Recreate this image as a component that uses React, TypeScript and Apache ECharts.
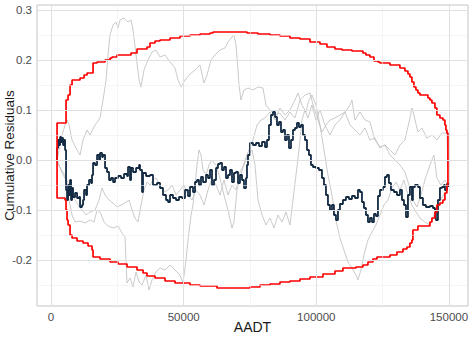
import React, { useEffect, useRef } from "react";
import * as echarts from "echarts";

// Tick values
const xTicks = [0, 50000, 100000, 150000];
const xMinorTicks = [25000, 75000, 125000];
const yTicks = [-0.2, -0.1, 0, 0.1, 0.2, 0.3];
const yMinorTicks = [-0.25, -0.15, -0.05, 0.05, 0.15, 0.25];

// Observed cumulative residuals (navy)
const obsAADT = [1890, 2260, 2640, 3020, 3390, 3770, 4150, 4520, 4900, 5280, 5650, 6030, 6410, 6780, 7160, 7540, 7920, 8290, 9050, 9800, 10550, 10930, 11680, 12060, 12440, 13190, 13570, 14320, 15080, 15450, 15830, 16580, 17340, 18090, 18470, 19220, 19600, 20350, 21110, 21860, 22610, 23370, 24120, 25250, 26380, 27510, 28640, 29020, 29770, 30150, 30900, 32040, 33170, 33540, 34300, 34670, 35810, 37310, 38440, 39950, 41080, 42210, 43340, 44100, 44850, 45980, 47110, 48240, 49370, 50500, 51630, 52380, 53520, 54270, 55020, 55780, 56530, 57290, 58420, 59170, 59930, 60680, 61430, 62190, 62940, 63700, 64450, 65200, 65960, 66710, 67470, 68220, 68970, 69730, 70480, 71230, 71990, 72740, 73500, 73870, 74250, 75000, 76130, 77260, 78400, 79530, 80660, 81410, 82160, 82920, 83670, 84430, 85180, 85930, 86690, 87440, 88200, 88950, 89700, 90460, 91210, 91960, 92720, 93470, 94230, 94980, 95730, 96490, 97240, 97990, 98750, 99880, 101010, 102140, 102890, 103650, 104400, 105160, 105910, 106660, 107420, 108170, 108920, 110050, 111190, 112320, 113450, 114580, 115710, 116460, 117220, 117970, 118720, 119480, 120230, 120990, 121740, 122490, 123250, 124000, 125130, 125890, 126640, 127390, 128150, 129280, 130410, 131540, 132300, 133050, 133810, 134560, 135310, 136070, 136440, 137200, 138330, 139080, 140210, 141340, 142850, 143980, 144740, 145110, 145870, 146620, 147380, 148130, 148510, 149260, 150010];
const obsResid = [0, 0.024, 0.04, 0.03, 0.046, 0.036, 0.044, 0.03, 0.04, 0.02, -0.06, -0.08, -0.05, -0.07, -0.04, -0.08, -0.056, -0.074, -0.066, -0.076, -0.074, -0.094, -0.09, -0.08, -0.06, -0.07, -0.05, -0.04, -0.046, -0.03, -0.006, -0.01, 0.01, 0, 0.014, 0.006, 0.01, -0.016, -0.024, -0.04, -0.036, -0.044, -0.036, -0.032, -0.036, -0.028, -0.032, -0.014, -0.04, -0.016, -0.024, -0.016, -0.01, -0.02, -0.064, -0.026, -0.032, -0.03, -0.05, -0.046, -0.056, -0.07, -0.08, -0.084, -0.07, -0.076, -0.08, -0.074, -0.076, -0.06, -0.072, -0.054, -0.064, -0.044, -0.04, -0.05, -0.034, -0.044, -0.03, -0.036, -0.02, -0.05, -0.04, -0.016, -0.008, -0.006, -0.02, -0.014, -0.036, -0.03, -0.02, -0.044, -0.026, -0.024, -0.046, -0.03, -0.04, -0.056, -0.036, -0.01, 0.01, 0.034, 0.03, 0.034, 0.028, 0.036, 0.026, 0.04, 0.07, 0.09, 0.096, 0.086, 0.07, 0.076, 0.056, 0.06, 0.04, 0.05, 0.024, 0.04, 0.06, 0.064, 0.074, 0.066, 0.07, 0.05, 0.04, 0.02, 0.01, -0.01, -0.014, -0.016, -0.02, -0.036, -0.05, -0.07, -0.09, -0.1, -0.09, -0.11, -0.12, -0.1, -0.088, -0.08, -0.074, -0.078, -0.072, -0.076, -0.06, -0.064, -0.084, -0.096, -0.11, -0.124, -0.116, -0.124, -0.108, -0.112, -0.072, -0.06, -0.054, -0.034, -0.03, -0.046, -0.06, -0.064, -0.07, -0.06, -0.08, -0.09, -0.114, -0.07, -0.054, -0.08, -0.054, -0.05, -0.054, -0.076, -0.09, -0.094, -0.092, -0.096, -0.1, -0.12, -0.08, -0.056, -0.054, -0.05, -0.06, -0.048, -0.054];

// Simulated cumulative residual paths (grey)
const sim1AADT = [2260, 3020, 4150, 5280, 6030, 6780, 7920, 9420, 10930, 12060, 13570, 14700, 16580, 18470, 19600, 20730, 21480, 22240, 23370, 24500, 25250, 26010, 27510, 29020, 30150, 30910, 32040, 33170, 33920, 35050, 36560, 38070, 39570, 41080, 42970, 44850, 46740, 47870, 49000, 50500, 52390, 54270, 56160, 57670, 58800, 60300, 61810, 63700, 65580, 66710, 68220, 68970, 69730, 70480, 70860, 71610, 72740, 74250, 76130, 78020, 79900, 81030, 82540, 84430, 86310, 88200, 90080, 91960, 93850, 95730, 97620, 99120, 100630, 102140, 103650, 105160, 107040, 108930, 110810, 112700, 113450, 114580, 116460, 118350, 120230, 122120, 124000, 125890, 127770, 129660, 131540, 133430, 135310, 136060, 136810, 138320, 139830, 141710, 143600, 145480, 147370, 149260, 149630];
const sim1Resid = [0, 0.02, 0.05, 0.07, 0.08, 0.07, 0.04, 0.024, 0.01, 0.04, 0.06, 0.05, 0.07, 0.084, 0.12, 0.16, 0.21, 0.25, 0.27, 0.276, 0.264, 0.28, 0.284, 0.276, 0.28, 0.26, 0.21, 0.16, 0.146, 0.18, 0.2, 0.216, 0.22, 0.206, 0.21, 0.196, 0.184, 0.16, 0.146, 0.16, 0.172, 0.18, 0.19, 0.154, 0.17, 0.2, 0.21, 0.22, 0.224, 0.236, 0.246, 0.25, 0.23, 0.18, 0.15, 0.12, 0.14, 0.144, 0.14, 0.146, 0.144, 0.11, 0.1, 0.09, 0.094, 0.08, 0.096, 0.084, 0.12, 0.13, 0.134, 0.104, 0.08, 0.056, 0.07, 0.08, 0.084, 0.09, 0.096, 0.11, 0.12, 0.08, 0.096, 0.08, 0.076, 0.04, 0.026, 0.03, 0.02, 0.01, 0.03, 0.04, 0.084, 0.104, 0.09, 0.056, 0.064, 0.044, 0.05, 0.04, 0.054, 0.054, -0.01];

const sim2AADT = [2260, 3390, 4520, 5650, 6410, 7160, 7920, 9050, 10930, 12810, 14700, 16210, 17340, 18470, 19980, 21480, 23370, 25250, 26760, 27890, 28270, 28640, 29780, 30910, 32040, 33170, 34300, 35810, 36940, 38070, 39570, 41080, 42970, 44850, 46740, 48620, 49750, 50880, 51640, 52770, 53520, 54270, 55030, 55780, 56540, 57290, 58420, 59550, 60680, 62190, 63700, 65200, 66710, 68220, 68970, 70100, 71610, 73120, 74630, 76130, 77640, 79150, 80660, 82540, 84430, 86310, 88200, 90080, 91960, 93090, 94600, 96110, 97240, 98370, 99880, 101390, 102890, 104400, 105910, 107420, 108930, 110430, 111940, 113450, 114950, 115710, 116840, 117970, 119480, 120980, 122490, 124000, 125510, 127020, 128520, 130030, 131540, 133050, 134560, 136060, 137570, 139080, 140960, 142850, 144350, 145860, 147370, 148880, 150010];
const sim2Resid = [0, -0.016, -0.03, -0.04, -0.07, -0.09, -0.11, -0.124, -0.122, -0.126, -0.12, -0.124, -0.1, -0.104, -0.124, -0.132, -0.136, -0.132, -0.146, -0.154, -0.204, -0.246, -0.236, -0.254, -0.224, -0.244, -0.25, -0.23, -0.26, -0.24, -0.224, -0.216, -0.22, -0.21, -0.22, -0.23, -0.246, -0.2, -0.16, -0.11, -0.09, -0.05, -0.01, 0.02, 0.01, -0.02, -0.03, -0.01, 0, -0.01, -0.036, -0.07, -0.1, -0.136, -0.124, -0.06, -0.03, 0, 0.02, 0.04, 0.07, 0.08, 0.084, 0.096, 0.08, 0.104, 0.09, 0.1, 0.12, 0.134, 0.11, 0.096, 0.12, 0.13, 0.11, 0.07, 0.02, -0.03, -0.07, -0.12, -0.156, -0.18, -0.204, -0.216, -0.23, -0.24, -0.22, -0.19, -0.16, -0.144, -0.13, -0.11, -0.09, -0.08, -0.056, -0.044, -0.06, -0.04, -0.07, -0.09, -0.104, -0.116, -0.124, -0.13, -0.11, -0.09, -0.076, -0.06, -0.05];

const sim3AADT = [2260, 3390, 4520, 5650, 7160, 8670, 10180, 11680, 13190, 14700, 16580, 18090, 19220, 20350, 21860, 23370, 24880, 26380, 27890, 29400, 30530, 31660, 32790, 33920, 35050, 36180, 37310, 38440, 39570, 41080, 42590, 44100, 45600, 47110, 48620, 50130, 51640, 53140, 54650, 56160, 57670, 59170, 60680, 62190, 63700, 65200, 66710, 68220, 69730, 71230, 72740, 74250, 75760, 76890, 78020, 79530, 81030, 82540, 84050, 85560, 87060, 88570, 90080, 91210, 92340, 93470, 94600, 95730, 96860, 98370, 99880, 101390, 103270, 105160, 107040, 108930, 110810, 112700, 114580, 116460, 118350, 120230, 122120, 124000, 125890, 127770, 129660, 131540, 133430, 134930, 136440, 137950, 139460, 140960, 142850, 144350, 145480, 146990, 148500, 150010];
const sim3Resid = [0, -0.016, -0.024, -0.036, -0.056, -0.076, -0.09, -0.1, -0.11, -0.104, -0.1, -0.08, -0.056, -0.07, -0.08, -0.086, -0.094, -0.09, -0.086, -0.08, -0.1, -0.116, -0.124, -0.09, -0.06, -0.044, -0.05, -0.04, -0.036, -0.05, -0.064, -0.06, -0.05, -0.07, -0.06, -0.05, -0.07, -0.08, -0.06, -0.07, -0.09, -0.06, -0.036, -0.05, -0.07, -0.04, -0.07, -0.05, -0.06, -0.024, -0.01, 0.01, 0.02, -0.01, -0.08, -0.11, -0.13, -0.116, -0.136, -0.11, -0.124, -0.104, -0.13, -0.08, -0.03, 0.02, 0.08, 0.1, 0.084, 0.11, 0.08, 0.1, 0.07, 0.05, 0.07, 0.08, 0.096, 0.07, 0.06, 0.05, 0.064, 0.04, 0.044, 0.024, 0.03, 0.01, 0, -0.01, -0.024, -0.05, -0.08, -0.094, -0.07, -0.04, -0.01, 0.01, -0.036, -0.05, -0.04, -0.054];

// Confidence limits (red)
const upperAADT = [2260, 2261, 5650, 6410, 7160, 7920, 10930, 12440, 13570, 15830, 17340, 20350, 22240, 22990, 24880, 30150, 32410, 36180, 37310, 39200, 41080, 44850, 48620, 52390, 56160, 59930, 61060, 73870, 78020, 82540, 86310, 90080, 93850, 97620, 101390, 104020, 107040, 109680, 113450, 117590, 118720, 120230, 121740, 123250, 124000, 127770, 131540, 133420, 134560, 135310, 136060, 136810, 137570, 138320, 139080, 142090, 142850, 143600, 144730, 145480, 146620, 147750, 148500, 148880, 149250, 149630];
const upperLimit = [0, 0.074, 0.12, 0.13, 0.15, 0.16, 0.164, 0.17, 0.174, 0.194, 0.196, 0.2, 0.204, 0.206, 0.21, 0.214, 0.222, 0.226, 0.234, 0.238, 0.24, 0.244, 0.248, 0.25, 0.252, 0.254, 0.256, 0.254, 0.252, 0.25, 0.248, 0.244, 0.242, 0.236, 0.232, 0.226, 0.222, 0.22, 0.218, 0.214, 0.21, 0.206, 0.198, 0.196, 0.194, 0.19, 0.184, 0.178, 0.172, 0.166, 0.156, 0.146, 0.14, 0.134, 0.13, 0.124, 0.12, 0.114, 0.104, 0.09, 0.084, 0.08, 0.07, 0.06, 0.054, 0];
const lowerAADT = [2260, 2261, 5280, 5650, 6030, 6410, 7160, 7920, 9800, 12060, 13950, 15450, 15830, 18470, 22240, 25250, 28640, 32410, 34680, 36180, 39200, 42970, 46740, 52390, 56160, 62570, 75000, 78770, 82540, 86310, 90080, 93850, 97620, 102520, 107040, 110050, 114950, 117590, 119480, 121360, 122870, 127770, 130410, 132670, 134180, 135310, 136060, 136440, 138320, 142850, 143600, 144730, 145480, 146620, 147750, 148500, 149250, 149630];
const lowerLimit = [0, -0.076, -0.08, -0.1, -0.12, -0.13, -0.15, -0.156, -0.162, -0.166, -0.172, -0.18, -0.194, -0.198, -0.204, -0.208, -0.214, -0.22, -0.226, -0.232, -0.236, -0.242, -0.246, -0.25, -0.252, -0.256, -0.254, -0.25, -0.248, -0.244, -0.242, -0.238, -0.234, -0.228, -0.222, -0.216, -0.214, -0.21, -0.204, -0.198, -0.194, -0.19, -0.184, -0.178, -0.174, -0.166, -0.16, -0.14, -0.132, -0.124, -0.116, -0.104, -0.09, -0.086, -0.08, -0.066, -0.05, 0];

const zip = (xs: number[], ys: number[]) => xs.map((x, i) => [x, ys[i]]);

const FONT = "'Liberation Sans', Arial, sans-serif";
const MAJOR = "#e0e0e0";
const MINOR = "#efefef";
const GREY_PATH = "#bdbdbd";

export default function App() {
  const ref = useRef<HTMLDivElement>(null);
  useEffect(() => {
    if (!ref.current) return;
    const chart = echarts.init(ref.current, null, { renderer: "svg" });
    const gridLines = [
      ...xMinorTicks.map((v) => ({ xAxis: v, lineStyle: { color: MINOR, width: 0.6, type: "solid" } })),
      ...yMinorTicks.map((v) => ({ yAxis: v, lineStyle: { color: MINOR, width: 0.6, type: "solid" } })),
      ...xTicks.map((v) => ({ xAxis: v, lineStyle: { color: MAJOR, width: 1, type: "solid" } })),
      ...yTicks.map((v) => ({ yAxis: v, lineStyle: { color: MAJOR, width: 1, type: "solid" } })),
    ];
    const simStyle = {
      type: "line",
      showSymbol: false,
      symbol: "none",
      silent: true,
      z: 2,
      lineStyle: { color: GREY_PATH, width: 0.8 },
    };
    chart.setOption({
      animation: false,
      backgroundColor: "#ffffff",
      textStyle: { fontFamily: FONT },
      grid: {
        left: 37,
        right: 6,
        top: 5,
        bottom: 32,
        show: true,
        borderColor: "#c4c4c4",
        borderWidth: 1,
        backgroundColor: "transparent",
        containLabel: false,
        outerBoundsMode: "none",
      },
      xAxis: {
        type: "value",
        min: -5300,
        max: 157200,
        name: "AADT",
        nameLocation: "middle",
        nameGap: 14,
        nameMoveOverlap: false,
        nameTextStyle: { color: "#1a1a1a", fontSize: 14, fontFamily: FONT, verticalAlign: "top" },
        axisLine: { show: false },
        axisTick: { show: true, length: 3, lineStyle: { color: "#b8b8b8" }, customValues: xTicks },
        axisLabel: {
          customValues: xTicks,
          formatter: (v: number) => String(v),
          color: "#4d4d4d",
          fontSize: 11.5,
          fontFamily: FONT,
          margin: 5,
        },
        splitLine: { show: false },
      },
      yAxis: {
        type: "value",
        min: -0.292,
        max: 0.31,
        name: "Cumulative Residuals",
        nameLocation: "middle",
        nameGap: 21,
        nameMoveOverlap: false,
        nameTextStyle: { color: "#1a1a1a", fontSize: 13.5, fontFamily: FONT },
        axisLine: { show: false },
        axisTick: { show: true, length: 3, lineStyle: { color: "#b8b8b8" }, customValues: yTicks },
        axisLabel: {
          customValues: yTicks,
          formatter: (v: number) => v.toFixed(1),
          color: "#4d4d4d",
          fontSize: 11.5,
          fontFamily: FONT,
          margin: 5,
        },
        splitLine: { show: false },
      },
      series: [
        {
          type: "line",
          data: [],
          z: 1,
          silent: true,
          markLine: {
            silent: true,
            symbol: ["none", "none"],
            label: { show: false },
            animation: false,
            lineStyle: { type: "solid" },
            data: gridLines,
          },
        },
        { ...simStyle, name: "sim1", data: zip(sim1AADT, sim1Resid) },
        { ...simStyle, name: "sim2", data: zip(sim2AADT, sim2Resid) },
        { ...simStyle, name: "sim3", data: zip(sim3AADT, sim3Resid) },
        {
          type: "line",
          name: "observed",
          step: "end",
          showSymbol: false,
          symbol: "none",
          z: 3,
          lineStyle: { color: "#132B43", width: 1.8 },
          data: zip(obsAADT, obsResid),
        },
        {
          type: "line",
          name: "upper",
          step: "end",
          showSymbol: false,
          symbol: "none",
          z: 4,
          lineStyle: { color: "#ff0000", width: 1.7 },
          data: zip(upperAADT, upperLimit),
        },
        {
          type: "line",
          name: "lower",
          step: "end",
          showSymbol: false,
          symbol: "none",
          z: 4,
          lineStyle: { color: "#ff0000", width: 1.7 },
          data: zip(lowerAADT, lowerLimit),
        },
      ],
    });
    return () => chart.dispose();
  }, []);
  return (
    <div
      ref={ref}
      style={{ position: "absolute", left: 0, top: 0, width: 474, height: 338 }}
    />
  );
}
